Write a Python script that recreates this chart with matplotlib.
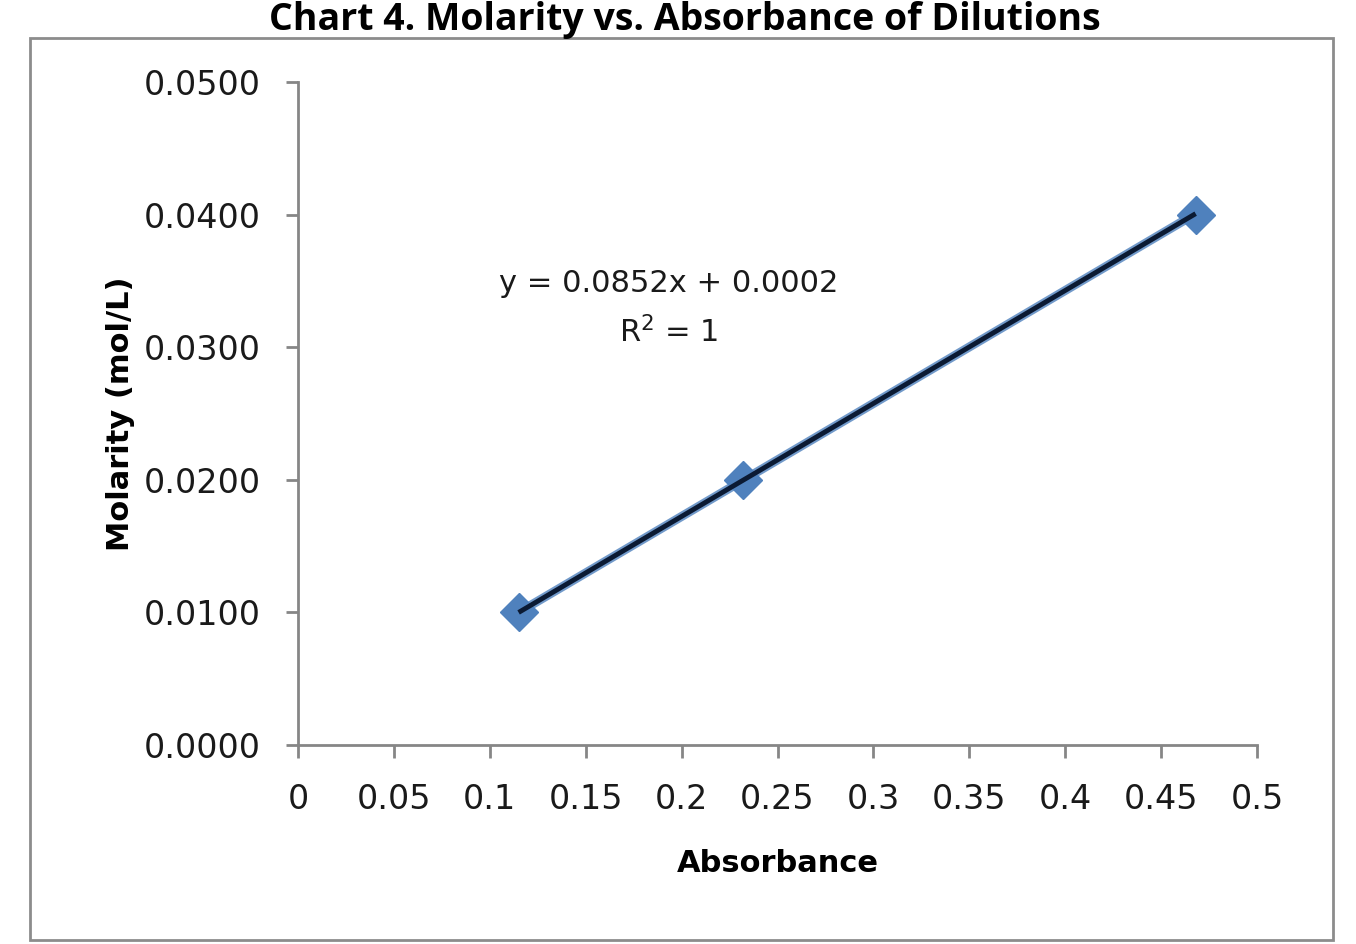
import numpy as np
import matplotlib.pyplot as plt
from matplotlib.patches import Rectangle

absorbance = [0.115, 0.232, 0.468]
molarity = [0.0100, 0.0200, 0.0400]
slope = 0.0852
intercept = 0.0002
x_ticks = [0, 0.05, 0.1, 0.15, 0.2, 0.25, 0.3, 0.35, 0.4, 0.45, 0.5]
x_labels = ['0', '0.05', '0.1', '0.15', '0.2', '0.25', '0.3', '0.35', '0.4', '0.45', '0.5']
y_ticks = [0.0, 0.01, 0.02, 0.03, 0.04, 0.05]

fig = plt.figure(figsize=(13.56, 9.44), dpi=100)
ax = fig.add_axes([0.2198, 0.2108, 0.7072, 0.7023])

# outer chart border
fig.patches.append(Rectangle((0.0221, 0.0042), 0.961, 0.9555, transform=fig.transFigure,
                             fill=False, edgecolor='#8c8c8c', linewidth=2))

# trendline (blue halo + dark core)
xs = np.array([absorbance[0], absorbance[-1]])
ax.plot(xs, slope * xs + intercept, color='#4f81bd', linewidth=6.5, zorder=3,
        solid_capstyle='butt', alpha=0.8)
ax.plot(xs, slope * xs + intercept, color='#0b1a33', linewidth=3.5, zorder=4,
        solid_capstyle='butt')
ax.plot(absorbance, molarity, linestyle='none', marker='D', markersize=19,
        color='#4f81bd', zorder=2)

ax.set_xlim(0, 0.5)
ax.set_ylim(0, 0.05)
ax.set_xticks(x_ticks)
ax.set_xticklabels(x_labels)
ax.set_yticks(y_ticks)
ax.set_yticklabels([f'{v:.4f}' for v in y_ticks])

for s in ['top', 'right']:
    ax.spines[s].set_visible(False)
for s in ['left', 'bottom']:
    ax.spines[s].set_color('#868686')
    ax.spines[s].set_linewidth(2)
ax.tick_params(direction='out', length=9, width=2, color='#868686',
               labelsize=24, labelcolor='#1a1a1a')
ax.tick_params(axis='y', pad=18)
ax.tick_params(axis='x', pad=18)

ax.set_xlabel('Absorbance', fontsize=22, fontweight='bold', labelpad=24)
ax.set_ylabel('Molarity (mol/L)', fontsize=22, fontweight='bold', labelpad=6)

ax.text(0.1934, 0.0348, 'y = 0.0852x + 0.0002', ha='center', va='center', fontsize=22,
        color='#1a1a1a')
ax.text(0.1934, 0.03115, 'R$^2$ = 1', ha='center', va='center', fontsize=22, color='#1a1a1a')

fig.text(0.505, 0.999, 'Chart 4. Molarity vs. Absorbance of Dilutions', ha='center',
         va='top', fontsize=27, fontweight='bold', family='Open Sans')

fig.savefig('out.png', dpi=100)
